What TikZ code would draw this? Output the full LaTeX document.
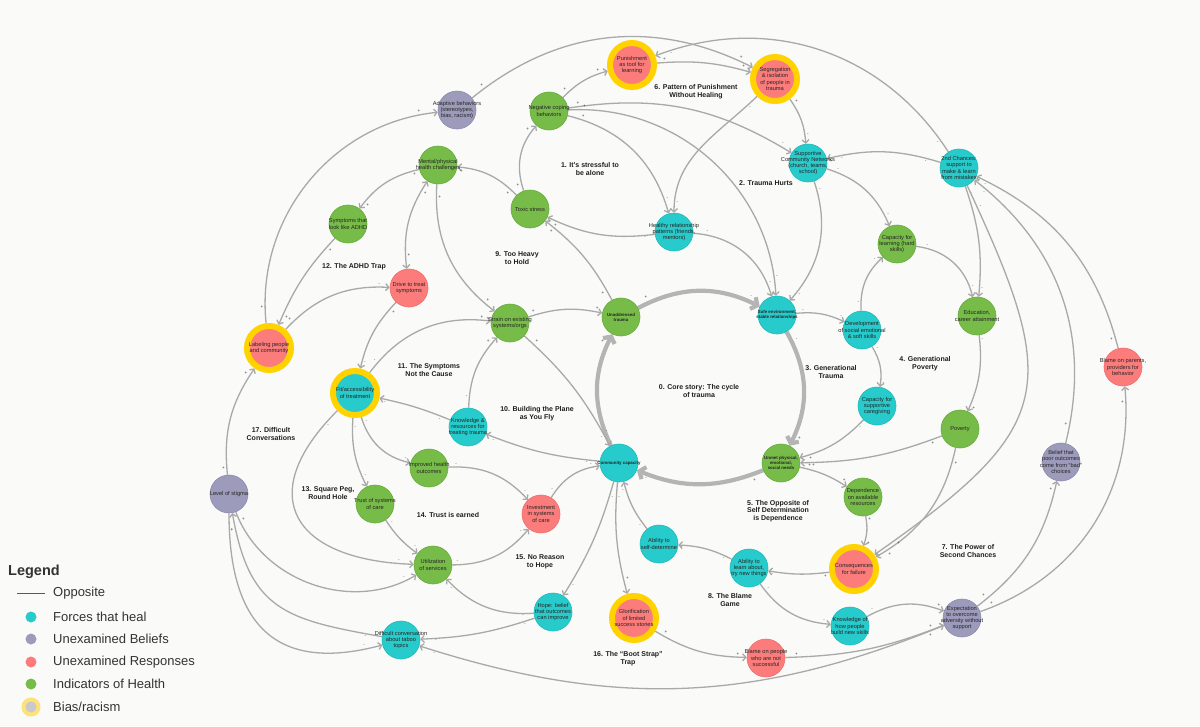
\documentclass[tikz,border=0pt]{standalone}
\usepackage{fontspec}
\setmainfont{Liberation Sans}
\usetikzlibrary{arrows.meta}
\pgfdeclarelayer{bg}\pgfdeclarelayer{edges}\pgfsetlayers{bg,edges,main}
\definecolor{cteal}{HTML}{27CBCB}\definecolor{ctealD}{HTML}{20BABA}
\definecolor{cgreen}{HTML}{77BB49}\definecolor{cgreenD}{HTML}{68AC3B}
\definecolor{cred}{HTML}{FC7C7C}\definecolor{credD}{HTML}{EE6E6E}
\definecolor{cpurp}{HTML}{9D9BBB}\definecolor{cpurpD}{HTML}{8E8CAE}
\definecolor{cyel}{HTML}{FFD200}\definecolor{cyelP}{HTML}{FBE27A}
\definecolor{cedge}{HTML}{A9A9A9}\definecolor{ccore}{HTML}{B4B4B4}
\definecolor{cbg}{HTML}{FAFAF8}\definecolor{ctxt}{HTML}{333333}
\definecolor{ntxt}{HTML}{262626}\definecolor{cgrayd}{HTML}{C9C9CD}
\tikzset{
 nd/.style={circle,minimum size=38pt,inner sep=0pt,line width=0.6pt},
 heal/.style={nd,fill=cteal,draw=ctealD},
 health/.style={nd,fill=cgreen,draw=cgreenD},
 resp/.style={nd,fill=cred,draw=credD},
 belief/.style={nd,fill=cpurp,draw=cpurpD},
 bias/.style={draw=cyel,line width=6pt,minimum size=44pt},
 nt/.style={align=center,font=\fontsize{5.7}{6.2}\selectfont,text=ntxt,inner sep=0pt},
 ntb/.style={align=center,font=\fontsize{4.4}{5.1}\selectfont\bfseries,text=ntxt,inner sep=0pt},
 lbl/.style={align=center,font=\fontsize{7}{7.8}\selectfont\bfseries,text=black!88},
 legt/.style={anchor=west,font=\fontsize{13}{15}\selectfont,text=ctxt,inner sep=0pt},
 e/.style={draw=cedge,line width=1.3pt,-{Straight Barb[length=3.2pt,width=7pt]}},
 ee/.style={draw=cedge,line width=1.3pt,{Straight Barb[length=3.2pt,width=7pt]}-{Straight Barb[length=3.2pt,width=7pt]}},
 core/.style={draw=ccore,line width=4.2pt,-{Straight Barb[length=5pt,width=13pt]}},
 sg/.style={auto,inner sep=1.2pt,font=\fontsize{4.6}{5}\selectfont,text=black!75}
}
\begin{document}
\begin{tikzpicture}[x=1pt,y=1pt]
\begin{pgfonlayer}{bg}
\fill[cbg] (0,0) rectangle (1200,-726);
\end{pgfonlayer}
\useasboundingbox (0,0) rectangle (1200,-726);

% ---------- nodes ----------
\node[belief,label={[nt]center:{Adaptive behaviors\\(stereotypes,\\bias, racism)}}] (adapt) at (457,-110) {};
\node[resp,bias,label={[nt]center:{Punishment\\as tool for\\learning}}] (punish) at (632,-65) {};
\node[resp,bias,label={[nt]center:{Segregation\\\& isolation\\of people in\\trauma}}] (segreg) at (775,-79) {};
\node[health,label={[nt]center:{Negative coping\\behaviors}}] (negc) at (549,-111) {};
\node[health,label={[nt]center:{Mental/physical\\health challenges}}] (mental) at (438,-165) {};
\node[health,label={[nt]center:{Toxic stress}}] (toxic) at (530,-209) {};
\node[health,label={[nt]center:{Symptoms that\\look like ADHD}}] (adhd) at (348,-224) {};
\node[heal,label={[nt]center:{Healthy relationship\\patterns (friends,\\mentors)}}] (healthy) at (674,-232) {};
\node[heal,label={[nt]center:{Supportive\\Community Networks\\(church, teams,\\school)}}] (support) at (808,-163) {};
\node[heal,label={[nt]center:{2nd Chances:\\support to\\make \& learn\\from mistakes}}] (second) at (959,-168) {};
\node[health,label={[nt]center:{Capacity for\\learning (hard\\skills)}}] (caplearn) at (897,-244) {};
\node[resp,label={[nt]center:{Drive to treat\\symptoms}}] (drive) at (409,-288) {};
\node[resp,bias,label={[nt]center:{Labeling people\\and community}}] (label) at (269,-348) {};
\node[health,label={[nt]center:{Strain on existing\\systems/orgs}}] (strain) at (510,-323) {};
\node[health,label={[ntb]center:{Unaddressed\\trauma}}] (unaddr) at (621,-317) {};
\node[heal,label={[ntb]center:{Safe environment,\\stable relationships}}] (safe) at (777,-315) {};
\node[heal,label={[nt]center:{Development\\of social emotional\\\& soft skills}}] (devel) at (862,-330) {};
\node[health,label={[nt]center:{Education,\\career attainment}}] (educ) at (977,-316) {};
\node[resp,label={[nt]center:{Blame on parents,\\providers for\\behavior}}] (blamepar) at (1123,-367) {};
\node[heal,bias,label={[nt]center:{Fit/accessibility\\of treatment}}] (fit) at (355,-393) {};
\node[heal,label={[nt]center:{Knowledge \&\\resources for\\treating trauma}}] (knowres) at (468,-427) {};
\node[heal,label={[nt]center:{Capacity for\\supportive\\caregiving}}] (caregiv) at (877,-406) {};
\node[health,label={[nt]center:{Poverty}}] (poverty) at (960,-429) {};
\node[heal,label={[ntb]center:{Community capacity}}] (commcap) at (619,-463) {};
\node[health,label={[ntb]center:{Unmet physical,\\emotional,\\social needs}}] (unmet) at (781,-463) {};
\node[health,label={[nt]center:{Improved health\\outcomes}}] (improved) at (429,-468) {};
\node[belief,label={[nt]center:{Level of stigma}}] (stigma) at (229,-494) {};
\node[belief,label={[nt]center:{Belief that\\poor outcomes\\come from “bad”\\choices}}] (badch) at (1061,-462) {};
\node[health,label={[nt]center:{Trust of systems\\of care}}] (trust) at (375,-504) {};
\node[resp,label={[nt]center:{Investment\\in systems\\of care}}] (invest) at (541,-514) {};
\node[health,label={[nt]center:{Dependence\\on available\\resources}}] (depend) at (863,-497) {};
\node[heal,label={[nt]center:{Ability to\\self-determine}}] (selfdet) at (659,-544) {};
\node[heal,label={[nt]center:{Ability to\\learn about,\\try new things}}] (learn) at (749,-568) {};
\node[resp,bias,label={[nt]center:{Consequences\\for failure}}] (conseq) at (854,-569) {};
\node[health,label={[nt]center:{Utilization\\of services}}] (util) at (433,-565) {};
\node[heal,label={[nt]center:{Hope: belief\\that outcomes\\can improve}}] (hope) at (553,-612) {};
\node[resp,bias,label={[nt]center:{Glorification\\of limited\\success stories}}] (glorif) at (634,-618) {};
\node[heal,label={[nt]center:{Knowledge of\\how people\\build new skills}}] (knowhow) at (850,-626) {};
\node[belief,label={[nt]center:{Expectation\\to overcome\\adversity without\\support}}] (expect) at (962,-618) {};
\node[heal,label={[nt]center:{Difficult conversation\\about taboo\\topics}}] (diffconv) at (401,-640) {};
\node[resp,label={[nt]center:{Blame on people\\who are not\\successful}}] (blamepeo) at (766,-658) {};

% ---------- loop labels ----------
\node[lbl] (l0) at (699,-391) {0. Core story: The cycle\\of trauma};
\node[lbl] (l1) at (590,-169) {1. It's stressful to\\be alone};
\node[lbl] (l2) at (766,-183) {2. Trauma Hurts};
\node[lbl] (l3) at (831,-372) {3. Generational\\Trauma};
\node[lbl] (l4) at (925,-364) {4. Generational\\Poverty};
\node[lbl] (l5) at (778,-511) {5. The Opposite of\\Self Determination\\is Dependence};
\node[lbl] (l6) at (696,-92) {6. Pattern of Punishment\\Without Healing};
\node[lbl] (l7) at (968,-551) {7. The Power of\\Second Chances};
\node[lbl] (l8) at (730,-600) {8. The Blame\\Game};
\node[lbl] (l9) at (517,-258) {9. Too Heavy\\to Hold};
\node[lbl] (l10) at (537,-414) {10. Building the Plane\\as You Fly};
\node[lbl] (l11) at (429,-370) {11. The Symptoms\\Not the Cause};
\node[lbl] (l12) at (354,-267) {12. The ADHD Trap};
\node[lbl] (l13) at (328,-493) {13. Square Peg,\\Round Hole};
\node[lbl] (l14) at (448,-515) {14. Trust is earned};
\node[lbl] (l15) at (540,-562) {15. No Reason\\to Hope};
\node[lbl] (l16) at (628,-659) {16. The “Boot Strap”\\Trap};
\node[lbl] (l17) at (271,-434) {17. Difficult\\Conversations};

% ---------- legend ----------
\node[anchor=west,font=\fontsize{14.5}{16}\selectfont\bfseries,text=ctxt,inner sep=0pt] (leg) at (8,-572) {Legend};
\coordinate (lgA) at (17,-593); \coordinate (lgB) at (45,-593);
\draw[line width=0.8pt,draw=black!65] (lgA) -- (lgB);
\node[legt] (lt0) at (53,-593) {Opposite};
\node[circle,fill=cteal,minimum size=11pt,inner sep=0pt] (ld1) at (31,-617) {};
\node[legt] (lt1) at (53,-617) {Forces that heal};
\node[circle,fill=cpurp,minimum size=11pt,inner sep=0pt] (ld2) at (31,-639) {};
\node[legt] (lt2) at (53,-639) {Unexamined Beliefs};
\node[circle,fill=cred,minimum size=11pt,inner sep=0pt] (ld3) at (31,-662) {};
\node[legt] (lt3) at (53,-662) {Unexamined Responses};
\node[circle,fill=cgreen,minimum size=11pt,inner sep=0pt] (ld4) at (31,-684) {};
\node[legt] (lt4) at (53,-684) {Indicators of Health};
\node[circle,fill=cgrayd,draw=cyelP,line width=4pt,minimum size=15pt,inner sep=0pt] (ld5) at (31,-707) {};
\node[legt] (lt5) at (53,-707) {Bias/racism};

% ---------- edges ----------
\begin{pgfonlayer}{edges}
% core cycle
\draw[core] (unaddr) to[bend left=27] node[sg,pos=.1]{+} node[sg,pos=.9]{-} (safe);
\draw[core] (safe) to[bend left=28] node[sg,pos=.1]{-} node[sg,pos=.9]{+} (unmet);
\draw[core] (unmet) to[bend left=22] node[sg,pos=.1]{+} node[sg,pos=.9]{-} (commcap);
\draw[core] (commcap) to[bend left=26] node[sg,pos=.1]{-} node[sg,pos=.9]{+} (unaddr);
% thin
\draw[e] (toxic) to[bend left=30] node[sg,pos=.12]{+} node[sg,pos=.88]{+} (negc);
\draw[e] (toxic) to[bend right=20] node[sg,pos=.1]{+} node[sg,pos=.9]{+} (mental);
\draw[e] (healthy) to[bend left=16] node[sg,pos=.1]{-} node[sg,pos=.9]{+} (toxic);
\draw[e] (unaddr) to[bend right=12] node[sg,pos=.1]{+} node[sg,pos=.9]{+} (toxic);
\draw[e] (mental) to[bend right=20] node[sg,pos=.1]{+} node[sg,pos=.9]{+} (adhd);
\draw[ee] (mental) to[bend right=20] node[sg,pos=.1]{+} node[sg,pos=.9]{+} (drive);
\draw[e] (mental) to[bend right=28] node[sg,pos=.08]{+} node[sg,pos=.92]{+} (strain);
\draw[e] (label) to[bend left=45] node[sg,pos=.05]{+} node[sg,pos=.95]{+} (adapt);
\draw[e] (adapt) to[bend left=33] node[sg,pos=.05]{+} node[sg,pos=.95]{+} (segreg);
\draw[e] (negc) to[bend left=15] node[sg,pos=.12]{+} node[sg,pos=.88]{+} (punish);
\draw[e] (punish) to[bend left=10] node[sg,pos=.1]{+} node[sg,pos=.9]{+} (segreg);
\draw[e] (second) to[bend right=39] node[sg,pos=.04]{-} node[sg,pos=.96]{-} (punish);
\draw[e] (segreg) to[bend left=15] node[sg,pos=.12]{+} node[sg,pos=.88]{-} (support);
\draw[e] (segreg) to[out=224,in=90] node[sg,pos=.08]{-} node[sg,pos=.92]{-} (healthy);
\draw[e] (negc) to[bend left=20] node[sg,pos=.05]{+} node[sg,pos=.95]{-} (support);
\draw[e] (negc) to[bend left=45] node[sg,pos=.05]{+} node[sg,pos=.95]{-} (safe);
\draw[e] (negc) to[bend left=30] node[sg,pos=.08]{+} node[sg,pos=.92]{-} (healthy);
\draw[e] (second) to[bend right=15] node[sg,pos=.1]{-} node[sg,pos=.9]{-} (support);
\draw[e] (support) to[bend left=25] node[sg,pos=.1]{-} node[sg,pos=.9]{-} (caplearn);
\draw[e] (support) to[bend left=30] node[sg,pos=.08]{-} node[sg,pos=.92]{-} (safe);
\draw[e] (healthy) to[bend left=35] node[sg,pos=.1]{-} node[sg,pos=.9]{-} (safe);
\draw[e] (safe) to[bend left=15] node[sg,pos=.12]{-} node[sg,pos=.88]{-} (devel);
\draw[e] (devel) to[bend left=25] node[sg,pos=.12]{-} node[sg,pos=.88]{-} (caplearn);
\draw[e] (devel) to[bend left=20] node[sg,pos=.12]{-} node[sg,pos=.88]{-} (caregiv);
\draw[e] (caregiv) to[bend left=15] node[sg,pos=.1]{-} node[sg,pos=.9]{+} (unmet);
\draw[e] (caplearn) to[bend left=35] node[sg,pos=.1]{-} node[sg,pos=.9]{-} (educ);
\draw[e] (second) to[bend left=12] node[sg,pos=.08]{-} node[sg,pos=.92]{-} (educ);
\draw[e] (educ) to[bend left=15] node[sg,pos=.08]{-} node[sg,pos=.92]{+} (poverty);
\draw[e] (poverty) to[bend left=10] node[sg,pos=.08]{+} node[sg,pos=.92]{+} (unmet);
\draw[e] (poverty) to[bend left=24] node[sg,pos=.08]{+} node[sg,pos=.92]{+} (conseq);
\draw[e] (second) to[out=-65,in=35,looseness=1.5] node[sg,pos=.04]{-} node[sg,pos=.96]{+} (conseq);
\draw[e] (badch) to[bend right=33] node[sg,pos=.05]{+} node[sg,pos=.95]{-} (second);
\draw[e] (blamepar) to[bend right=25] node[sg,pos=.05]{+} node[sg,pos=.95]{-} (second);
\draw[e] (expect) to[bend right=38] node[sg,pos=.05]{+} node[sg,pos=.95]{+} (blamepar);
\draw[e] (expect) to[bend right=20] node[sg,pos=.07]{+} node[sg,pos=.93]{+} (badch);
\draw[e] (expect) to[bend left=20] node[sg,pos=.03]{+} node[sg,pos=.97]{-} (diffconv);
\draw[e] (blamepeo) to[bend right=10] node[sg,pos=.06]{+} node[sg,pos=.94]{+} (expect);
\draw[e] (knowhow) to[bend left=25] node[sg,pos=.1]{-} node[sg,pos=.9]{+} (expect);
\draw[e] (glorif) to[bend right=15] node[sg,pos=.08]{+} node[sg,pos=.92]{+} (blamepeo);
\draw[e] (learn) to[bend right=25] node[sg,pos=.1]{-} node[sg,pos=.9]{-} (knowhow);
\draw[e] (conseq) to[bend left=8] node[sg,pos=.1]{+} node[sg,pos=.9]{-} (learn);
\draw[e] (learn) to[bend right=12] node[sg,pos=.1]{-} node[sg,pos=.9]{-} (selfdet);
\draw[e] (selfdet) to[bend left=12] node[sg,pos=.12]{-} node[sg,pos=.88]{-} (commcap);
\draw[e] (commcap) to[bend right=10] node[sg,pos=.1]{-} node[sg,pos=.9]{+} (glorif);
\draw[e] (commcap) to[bend left=8] node[sg,pos=.1]{-} node[sg,pos=.9]{-} (hope);
\draw[e] (unmet) to[bend left=10] node[sg,pos=.12]{+} node[sg,pos=.88]{+} (depend);
\draw[e] (depend) to[bend left=15] node[sg,pos=.2]{+} node[sg,pos=.8]{+} (conseq);
\draw[e] (invest) to[bend left=25] node[sg,pos=.1]{-} node[sg,pos=.9]{-} (commcap);
\draw[e] (improved) to[bend left=25] node[sg,pos=.08]{-} node[sg,pos=.92]{-} (invest);
\draw[e] (util) to[bend right=25] node[sg,pos=.08]{-} node[sg,pos=.92]{-} (invest);
\draw[e] (trust) to[bend right=10] node[sg,pos=.12]{-} node[sg,pos=.88]{-} (util);
\draw[e] (fit) to[bend right=15] node[sg,pos=.12]{-} node[sg,pos=.88]{-} (trust);
\draw[e] (fit) to[bend right=30] node[sg,pos=.1]{-} node[sg,pos=.9]{-} (improved);
\draw[e] (fit) to[out=225,in=178,looseness=1.8] node[sg,pos=.05]{-} node[sg,pos=.95]{-} (util);
\draw[e] (stigma) to[bend right=50] node[sg,pos=.05]{+} node[sg,pos=.95]{-} (util);
\draw[e] (stigma) to[out=-90,in=195,looseness=1.4] node[sg,pos=.05]{-} node[sg,pos=.95]{-} (diffconv);
\draw[e] (diffconv) to[out=170,in=-80,looseness=1.3] node[sg,pos=.05]{-} node[sg,pos=.95]{+} (stigma);
\draw[e] (stigma) to[bend left=20] node[sg,pos=.08]{+} node[sg,pos=.92]{+} (label);
\draw[e] (adhd) to[bend right=10] node[sg,pos=.1]{+} node[sg,pos=.9]{+} (label);
\draw[e] (label) to[bend left=25] node[sg,pos=.08]{+} node[sg,pos=.92]{-} (drive);
\draw[e] (drive) to[bend right=15] node[sg,pos=.1]{+} node[sg,pos=.9]{-} (fit);
\draw[e] (fit) to[bend left=30] node[sg,pos=.08]{-} node[sg,pos=.92]{+} (strain);
\draw[e] (knowres) to[bend left=20] node[sg,pos=.1]{-} node[sg,pos=.9]{+} (strain);
\draw[e] (knowres) to[bend right=5] node[sg,pos=.1]{-} node[sg,pos=.9]{-} (fit);
\draw[e] (commcap) to[bend left=8] node[sg,pos=.08]{-} node[sg,pos=.92]{-} (knowres);
\draw[e] (strain) to[bend left=15] node[sg,pos=.1]{+} node[sg,pos=.9]{+} (unaddr);
\draw[e] (strain) to[bend left=10] node[sg,pos=.08]{+} node[sg,pos=.92]{-} (commcap);
\draw[e] (hope) to[bend left=25] node[sg,pos=.1]{-} node[sg,pos=.9]{-} (util);
\draw[e] (hope) to[bend left=8] node[sg,pos=.1]{-} node[sg,pos=.9]{-} (diffconv);
\end{pgfonlayer}
\end{tikzpicture}
\end{document}
